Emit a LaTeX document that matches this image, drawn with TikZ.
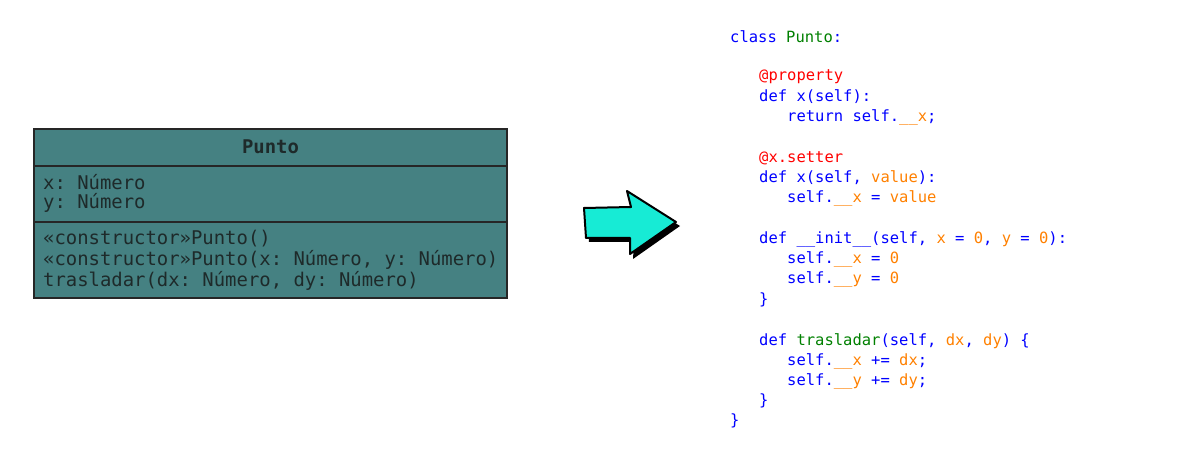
\documentclass[tikz,border=0pt]{standalone}
\usepackage{fontspec}
\setmonofont{DejaVu Sans Mono}
\definecolor{umlfill}{HTML}{458182}
\definecolor{umltext}{HTML}{1E2A2A}
\definecolor{kw}{HTML}{0000FF}
\definecolor{gn}{HTML}{008000}
\definecolor{rd}{HTML}{FF0000}
\definecolor{og}{HTML}{FF8000}
\definecolor{aqua}{HTML}{17EBD5}
\newcommand{\B}[1]{\textcolor{kw}{#1}}
\newcommand{\G}[1]{\textcolor{gn}{#1}}
\newcommand{\R}[1]{\textcolor{rd}{#1}}
\newcommand{\OO}[1]{\textcolor{og}{#1}}
\begin{document}
\begin{tikzpicture}[x=1pt,y=-1pt,
  umltxt/.style={anchor=west,inner sep=0,font=\ttfamily\fontsize{18.9}{22}\selectfont,text=umltext},
  code/.style={anchor=west,inner sep=0,font=\ttfamily\fontsize{15.5}{18}\selectfont}]
\useasboundingbox (0,0) rectangle (1200,465);
% UML
\draw[fill=umlfill,line width=1.2pt,draw=black!85] (34,129) rectangle (507,298);
\draw[line width=1.2pt,draw=black!85] (34,166) -- (507,166) (34,222) -- (507,222);
\node[umltxt,anchor=center,font=\ttfamily\bfseries\fontsize{18.9}{22}\selectfont] (title) at (270.5,147) {Punto};
\node[umltxt] (a1) at (43,182) {x: Número};
\node[umltxt] (a2) at (43,203) {y: Número};
\node[umltxt] (m1) at (43,239) {«constructor»Punto()};
\node[umltxt] (m2) at (43,260) {«constructor»Punto(x: Número, y: Número)};
\node[umltxt] (m3) at (43,281) {trasladar(dx: Número, dy: Número)};
% arrow
\fill[black] (588,212) -- (634,211) -- (631,195) -- (680,226) -- (633,259) -- (634,242) -- (589,242) -- cycle;
\draw[fill=aqua,line width=2pt,line join=round] (584,208) -- (631,207) -- (627,191) -- (676,222) -- (630,254) -- (630,238) -- (586,238) -- cycle;
% code
\node[code] (c1) at (730,37) {\B{class}\ \G{Punto}\B{:}};
\node[code] (c2) at (759,77) {\R{@property}};
\node[code] (c3) at (759,97) {\B{def\ x(self):}};
\node[code] (c4) at (787,117) {\B{return\ self.}\OO{\_\_x}\B{;}};
\node[code] (c5) at (759,158) {\R{@x.setter}};
\node[code] (c6) at (759,178) {\B{def\ x(self,}\ \OO{value}\B{):}};
\node[code] (c7) at (787,198) {\B{self.}\OO{\_\_x}\ \B{=}\ \OO{value}};
\node[code] (c8) at (759,239) {\B{def\ \_\_init\_\_(self,}\ \OO{x}\ \B{=}\ \OO{0}\B{,}\ \OO{y}\ \B{=}\ \OO{0}\B{):}};
\node[code] (c9) at (787,259) {\B{self.}\OO{\_\_x}\ \B{=}\ \OO{0}};
\node[code] (c10) at (787,279) {\B{self.}\OO{\_\_y}\ \B{=}\ \OO{0}};
\node[code] (c11) at (759,300) {\B{\}}};
\node[code] (c12) at (759,341) {\B{def}\ \G{trasladar}\B{(self,}\ \OO{dx}\B{,}\ \OO{dy}\B{)\ \{}};
\node[code] (c13) at (787,361) {\B{self.}\OO{\_\_x}\ \B{+=}\ \OO{dx}\B{;}};
\node[code] (c14) at (787,381) {\B{self.}\OO{\_\_y}\ \B{+=}\ \OO{dy}\B{;}};
\node[code] (c15) at (759,401) {\B{\}}};
\node[code] (c16) at (730,421) {\B{\}}};
\end{tikzpicture}
\end{document}
